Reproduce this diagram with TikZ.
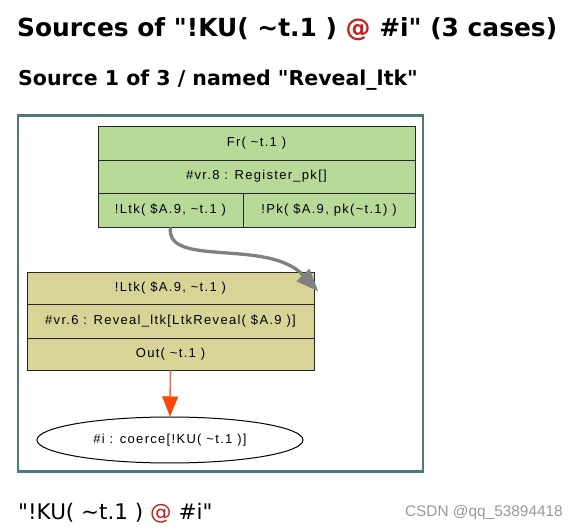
\documentclass[tikz,border=0pt]{standalone}
\usepackage{fontspec}
\usetikzlibrary{arrows.meta,shapes.geometric}
\newfontfamily\djsans{DejaVu Sans}
\newfontfamily\libsans{Liberation Sans}
\newfontfamily\nodefont[LetterSpace=10]{Liberation Sans}
\definecolor{frameC}{RGB}{78,120,124}
\definecolor{greenC}{RGB}{184,218,152}
\definecolor{khakiC}{RGB}{216,212,152}
\definecolor{atRed}{RGB}{200,30,30}
\definecolor{arrowGray}{RGB}{128,128,128}
\definecolor{arrowOrange}{RGB}{230,110,70}
\definecolor{tipOrange}{RGB}{250,70,10}
\tikzset{
  cell/.style={draw=black!85, line width=0.9pt, inner sep=0pt, font=\nodefont\fontsize{13}{15}\selectfont},
  gcell/.style={cell, fill=greenC},
  kcell/.style={cell, fill=khakiC},
}
\begin{document}
\begin{tikzpicture}[x=1pt,y=-1pt]
\useasboundingbox[fill=white] (0,0) rectangle (579,529);
% titles
\node[anchor=base west, inner sep=0pt, font=\djsans\bfseries\fontsize{24.9}{29}\selectfont] (title) at (17,37) {Sources of "!KU( \textasciitilde t.1 ) \textcolor{atRed}{@} \#i" (3 cases)};
\node[anchor=base west, inner sep=0pt, font=\djsans\bfseries\fontsize{20.5}{24}\selectfont] (subtitle) at (18,86) {Source 1 of 3 / named "Reveal\_ltk"};
% frame
\node[draw=frameC, line width=2.4pt, minimum width=405pt, minimum height=356pt, inner sep=0pt] (frame) at (220.5,293.5) {};
% green node
\node[gcell, minimum width=317pt, minimum height=34pt] (fr) at (256.5,143) {Fr( \textasciitilde t.1 )};
\node[gcell, minimum width=317pt, minimum height=33pt] (reg) at (256.5,176.5) {\#vr.8 : Register\_pk[]};
\node[gcell, minimum width=145pt, minimum height=34pt] (ltk1) at (170.5,210) {!Ltk( \$A.9, \textasciitilde t.1 )};
\node[gcell, minimum width=172pt, minimum height=34pt] (pk1) at (329,210) {!Pk( \$A.9, pk(\textasciitilde t.1) )};
% khaki node
\node[kcell, minimum width=287pt, minimum height=32pt] (ltk2) at (170.5,288) {!Ltk( \$A.9, \textasciitilde t.1 )};
\node[kcell, minimum width=287pt, minimum height=34pt] (rev) at (170.5,321) {\#vr.6 : Reveal\_ltk[LtkReveal( \$A.9 )]};
\node[kcell, minimum width=287pt, minimum height=32pt] (out) at (170.5,354) {Out( \textasciitilde t.1 )};
% ellipse
\node[ellipse, draw=black, line width=1pt, minimum width=266pt, minimum height=46pt, inner sep=0pt, font=\nodefont\fontsize{13}{15}\selectfont] (coerce) at (170,440) {\#i : coerce[!KU( \textasciitilde t.1 )]};
% edges
\coordinate (gtip) at (318,291);
\draw[arrowGray, line width=3.3pt, -{Triangle[length=22pt,width=18pt,line width=0.5pt]}] (ltk1.south) .. controls (165,268) and (268,238) .. (gtip);
\draw[arrowOrange, line width=1.6pt, -{Triangle[length=20pt,width=16pt,line width=0.5pt,fill=tipOrange,color=tipOrange]}] (out.south) -- (coerce.north);
% bottom text
\node[anchor=base west, inner sep=0pt, font=\djsans\fontsize{21.5}{25}\selectfont] (fact) at (18,520) {"!KU( \textasciitilde t.1 ) \textcolor{atRed}{@} \#i"};
\node[anchor=base east, inner sep=0pt, text=black!40, font=\libsans\fontsize{15.4}{18}\selectfont] (wm) at (563,517) {CSDN @qq\_53894418};
\end{tikzpicture}
\end{document}
